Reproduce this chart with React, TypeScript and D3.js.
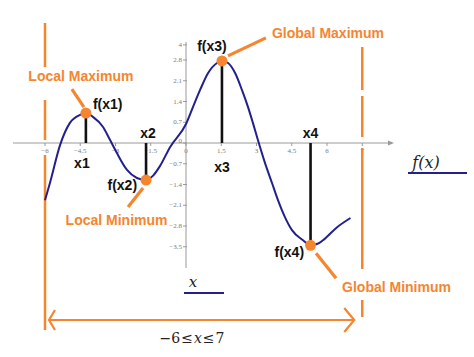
import React from "react";
import * as d3 from "d3";

// ---- data ----
const curveX = [-6.0, -5.79, -5.36, -4.94, -4.51, -4.26, -3.96, -3.53, -3.23, -2.94, -2.51, -2.09, -1.7, -1.4, -1.11, -0.68, 0.0, 0.3, 0.6, 0.94, 1.32, 1.53, 1.79, 2.09, 2.38, 2.64, 2.85, 3.06, 3.36, 3.66, 3.91, 4.21, 4.51, 4.98, 5.3, 5.6, 5.83, 6.43, 7.0];
const curveY = [-1.93, -1.35, -0.07, 0.68, 0.95, 1.01, 0.88, 0.54, 0.1, -0.34, -0.91, -1.18, -1.25, -1.1, -0.78, -0.14, 0.64, 1.22, 1.79, 2.36, 2.7, 2.77, 2.7, 2.36, 1.79, 1.21, 0.67, 0.1, -0.67, -1.35, -1.92, -2.5, -2.94, -3.28, -3.45, -3.4, -3.28, -2.84, -2.53];

const xTickPositions = [-6, -4.5, -3, -1.5, 0, 1.5, 3, 4.5, 6, 7.5];
const xTickLabels = ["−6", "−4.5", "−3", "−1.5", "0", "1.5", "3", "4.5", "6", "7"];
const yTickPositions = [3.31, 2.8, 2.1, 1.4, 0.7, 0, -0.7, -1.4, -2.1, -2.8, -3.5];
const yTickLabels = ["4", "2.8", "2.1", "1.4", "0.7", "0", "−0.7", "−1.4", "−2.1", "−2.8", "−3.5"];

const extremaX = [-4.26, -1.7, 1.53, 5.3];
const extremaY = [1.01, -1.25, 2.77, -3.45];
const pointLabels = ["x1", "x2", "x3", "x4"];
const valueLabels = ["f(x1)", "f(x2)", "f(x3)", "f(x4)"];
const annotationTexts = ["Local Maximum", "Local Minimum", "Global Maximum", "Global Minimum"];

const rangeStart = -6;
const rangeEndMark = 7.5;

// ---- styling / layout ----
const W = 474;
const H = 357;
const ORANGE = "#F5852F";
const BLUE = "#23208E";
const AXIS = "#9a9a9a";
const TICKTXT = "#7a7a7a";

// per-point label layout (pixel offsets relative to the dot)
const valueLabelLayout = [
  { dx: 7, dy: -9, anchor: "start" },
  { dx: -9, dy: 5, anchor: "end" },
  { dx: -10, dy: -15, anchor: "middle" },
  { dx: -6.5, dy: 7, anchor: "end" },
];
const pointLabelLayout = [
  { dx: -4, y: 163 },
  { dx: 2, y: 133 },
  { dx: 0, y: 167 },
  { dx: 0, y: 133 },
];
const annoLineLayout = [
  [-14, -24, -2, -6],
  [-3, 8, -18, 27],
  [6, -5, 44, -23],
  [5.5, 8, 25.5, 33],
];
const annoTextLayout = [
  { dx: -5, dy: -37, anchor: "middle" },
  { dx: -29.5, dy: 40, anchor: "middle" },
  { dx: 50, dy: -28, anchor: "start" },
  { dx: 31.5, dy: 42, anchor: "start" },
];

export default function App() {
  const x = d3.scaleLinear().domain([-6, 7]).range([45, 350.5]);
  const y = d3.scaleLinear().domain([0, 2.8]).range([143, 60]);
  const y0 = y(0);
  const x0 = x(0);

  const pts: [number, number][] = curveX.map((v, i) => [v, curveY[i]]);
  const line = d3
    .line<[number, number]>()
    .x((d) => x(d[0]))
    .y((d) => y(d[1]))
    .curve(d3.curveMonotoneX);

  const leftX = x(rangeStart);
  const rightX = x(rangeEndMark);
  const leftSegs = [
    [23, 67],
    [100, 140],
    [155, 330],
  ];
  const rightSegs = [
    [47, 90],
    [96, 137],
    [148, 269],
    [300, 317],
  ];
  const bracketY = 320;
  const bL = leftX + 4;
  const bR = rightX - 8;

  const labelFont = "'Liberation Sans', Arial, Helvetica, sans-serif";
  const mathFont = "'DejaVu Serif', 'Liberation Serif', serif";

  return (
    <svg
      width={W}
      height={H}
      viewBox={`0 0 ${W} ${H}`}
      style={{ position: "absolute", left: 0, top: 0, background: "#fff" }}
    >
      <rect width={W} height={H} fill="#fff" />
      {/* x axis */}
      <line x1={13} x2={390} y1={y0} y2={y0} stroke={AXIS} strokeWidth={1} />
      <path d={`M394,${y0} L388,${y0 - 2.5} L388,${y0 + 2.5} Z`} fill={AXIS} />
      {xTickPositions.map((v, i) => (
        <g key={"xt" + i}>
          <line x1={x(v)} x2={x(v)} y1={y0} y2={y0 + 3} stroke={AXIS} strokeWidth={1} />
          <text
            x={x(v)}
            y={y0 + 8}
            textAnchor="middle"
            dominantBaseline="central"
            fontSize={7}
            fontFamily="'Liberation Serif', serif"
            fill={TICKTXT}
          >
            {xTickLabels[i]}
          </text>
        </g>
      ))}
      {/* y axis */}
      <line x1={x0} x2={x0} y1={42} y2={268} stroke={AXIS} strokeWidth={1} />
      {yTickPositions.map((v, i) => (
        <g key={"yt" + i}>
          <line x1={x0 - 3} x2={x0 + 1} y1={y(v)} y2={y(v)} stroke={AXIS} strokeWidth={1} />
          <text
            x={x0 - 4}
            y={y(v) - (v === 0 ? 2 : 0)}
            textAnchor="end"
            dominantBaseline="central"
            fontSize={7}
            fontFamily="'Liberation Serif', serif"
            fill={TICKTXT}
          >
            {yTickLabels[i]}
          </text>
        </g>
      ))}

      {/* range boundary lines */}
      {leftSegs.map((s, i) => (
        <line key={"ls" + i} x1={leftX} x2={leftX} y1={s[0]} y2={s[1]} stroke={ORANGE} strokeWidth={2.5} />
      ))}
      {rightSegs.map((s, i) => (
        <line key={"rs" + i} x1={rightX} x2={rightX} y1={s[0]} y2={s[1]} stroke={ORANGE} strokeWidth={2.5} />
      ))}

      {/* bracket arrow */}
      <line x1={bL} x2={bR} y1={bracketY} y2={bracketY} stroke={ORANGE} strokeWidth={2.2} />
      <polyline
        points={`${bL + 6},${bracketY - 10} ${bL},${bracketY} ${bL + 6},${bracketY + 10}`}
        fill="none"
        stroke={ORANGE}
        strokeWidth={2.2}
      />
      <polyline
        points={`${bR - 10},${bracketY - 12} ${bR},${bracketY} ${bR - 10},${bracketY + 12}`}
        fill="none"
        stroke={ORANGE}
        strokeWidth={2.2}
      />
      <text x={192} y={338} textAnchor="middle" dominantBaseline="central" fontSize={14} fontFamily={mathFont} fill="#222">
        <tspan>−6</tspan>
        <tspan dx={1}>≤</tspan>
        <tspan dx={1} fontStyle="italic">x</tspan>
        <tspan dx={1}>≤</tspan>
        <tspan dx={1}>7</tspan>
      </text>

      {/* stems */}
      {extremaX.map((v, i) => (
        <line
          key={"st" + i}
          x1={x(v)}
          x2={x(v)}
          y1={y(extremaY[i])}
          y2={y0}
          stroke="#111"
          strokeWidth={2.6}
        />
      ))}

      {/* curve */}
      <path d={line(pts) || ""} fill="none" stroke={BLUE} strokeWidth={2} />

      {/* dots, labels, annotations */}
      {extremaX.map((v, i) => {
        const cx = x(v);
        const cy = y(extremaY[i]);
        const vl = valueLabelLayout[i];
        const pl = pointLabelLayout[i];
        const al = annoLineLayout[i];
        const at = annoTextLayout[i];
        return (
          <g key={"pt" + i}>
            <line
              x1={cx + al[0]}
              y1={cy + al[1]}
              x2={cx + al[2]}
              y2={cy + al[3]}
              stroke={ORANGE}
              strokeWidth={3.2}
            />
            <circle cx={cx} cy={cy} r={5.5} fill={ORANGE} />
            <text
              x={cx + vl.dx}
              y={cy + vl.dy}
              textAnchor={vl.anchor as any}
              dominantBaseline="central"
              fontSize={14}
              fontWeight="bold"
              fontFamily={labelFont}
              fill="#111"
            >
              {valueLabels[i]}
            </text>
            <text
              x={cx + pl.dx}
              y={pl.y}
              textAnchor="middle"
              dominantBaseline="central"
              fontSize={14}
              fontWeight="bold"
              fontFamily={labelFont}
              fill="#111"
            >
              {pointLabels[i]}
            </text>
            <text
              x={cx + at.dx}
              y={cy + at.dy}
              textAnchor={at.anchor as any}
              dominantBaseline="central"
              fontSize={14}
              fontWeight="bold"
              fontFamily={labelFont}
              fill={ORANGE}
            >
              {annotationTexts[i]}
            </text>
          </g>
        );
      })}

      {/* legends */}
      <text x={193} y={282} textAnchor="middle" dominantBaseline="central" fontSize={15} fontStyle="italic" fontFamily={mathFont} fill="#222">
        x
      </text>
      <line x1={184} x2={224} y1={293} y2={293} stroke={BLUE} strokeWidth={2} />
      <text x={426} y={162} textAnchor="middle" dominantBaseline="central" fontSize={16} fontStyle="italic" fontFamily={mathFont} fill="#222">
        f(x)
      </text>
      <line x1={408} x2={467} y1={173} y2={173} stroke={BLUE} strokeWidth={2} />
    </svg>
  );
}
